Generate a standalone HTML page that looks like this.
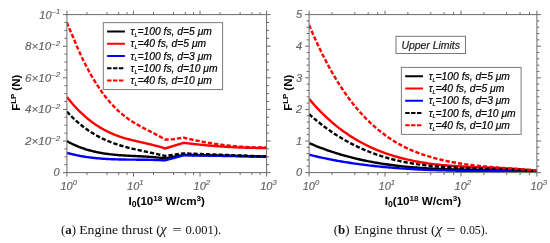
<!DOCTYPE html><html><head><meta charset="utf-8"><style>html,body{margin:0;padding:0;background:#fff;width:550px;height:243px;overflow:hidden}svg{display:block}</style></head><body>
<svg width="550" height="243" viewBox="0 0 550 243">
<rect width="550" height="243" fill="#fff"/>
<defs><clipPath id="cl"><rect x="66.9" y="14.6" width="199.70000000000002" height="158.0"/></clipPath><clipPath id="cr"><rect x="309.1" y="14.6" width="227.79999999999995" height="158.0"/></clipPath></defs>
<g clip-path="url(#cl)">
<path d="M66.90 141.13 L67.72 141.58 L68.55 142.02 L69.37 142.46 L70.20 142.88 L71.02 143.30 L71.85 143.71 L72.67 144.10 L73.49 144.49 L74.32 144.87 L75.14 145.24 L75.97 145.60 L76.79 145.95 L77.62 146.29 L78.44 146.63 L79.27 146.95 L80.09 147.27 L80.91 147.58 L81.74 147.88 L82.56 148.18 L83.39 148.46 L84.21 148.74 L85.04 149.01 L85.86 149.28 L86.68 149.53 L87.51 149.78 L88.33 150.02 L89.16 150.26 L89.98 150.49 L90.81 150.71 L91.63 150.92 L92.46 151.13 L93.28 151.33 L94.10 151.53 L94.93 151.72 L95.75 151.90 L96.58 152.08 L97.40 152.25 L98.23 152.42 L99.05 152.58 L99.87 152.74 L100.70 152.89 L101.52 153.03 L102.35 153.17 L103.17 153.31 L104.00 153.44 L104.82 153.57 L105.65 153.69 L106.47 153.80 L107.29 153.92 L108.12 154.03 L108.94 154.13 L109.77 154.23 L110.59 154.33 L111.42 154.42 L112.24 154.51 L113.06 154.60 L113.89 154.68 L114.71 154.76 L115.54 154.84 L116.36 154.91 L117.19 154.98 L118.01 155.05 L118.84 155.12 L119.66 155.18 L120.48 155.24 L121.31 155.30 L122.13 155.35 L122.96 155.41 L123.78 155.46 L124.61 155.51 L125.43 155.56 L126.25 155.61 L127.08 155.66 L127.90 155.70 L128.73 155.74 L129.55 155.79 L130.38 155.83 L131.20 155.87 L132.03 155.91 L132.85 155.95 L133.67 155.99 L134.50 156.03 L135.32 156.07 L136.15 156.11 L136.97 156.15 L137.80 156.19 L138.62 156.23 L139.44 156.27 L140.27 156.31 L141.09 156.35 L141.92 156.39 L142.74 156.43 L143.57 156.48 L144.39 156.52 L145.22 156.57 L146.04 156.62 L146.86 156.67 L147.69 156.72 L148.51 156.77 L149.34 156.83 L150.16 156.88 L150.99 156.94 L151.81 157.00 L152.63 157.07 L153.46 157.13 L154.28 157.20 L155.11 157.27 L155.93 157.35 L156.76 157.42 L157.58 157.50 L158.41 157.59 L159.23 157.67 L160.05 157.76 L160.88 157.86 L161.70 157.95 L162.53 158.06 L163.35 158.16 L164.18 158.27 L165.00 158.38 L183.60 154.90 L184.30 154.91 L184.99 154.92 L185.69 154.93 L186.39 154.94 L187.09 154.96 L187.78 154.97 L188.48 154.98 L189.18 154.99 L189.88 155.00 L190.57 155.02 L191.27 155.03 L191.97 155.04 L192.67 155.05 L193.36 155.07 L194.06 155.08 L194.76 155.09 L195.46 155.10 L196.15 155.11 L196.85 155.13 L197.55 155.14 L198.25 155.15 L198.94 155.16 L199.64 155.18 L200.34 155.19 L201.04 155.20 L201.73 155.21 L202.43 155.23 L203.13 155.24 L203.83 155.25 L204.52 155.26 L205.22 155.28 L205.92 155.29 L206.62 155.30 L207.31 155.32 L208.01 155.33 L208.71 155.34 L209.41 155.35 L210.10 155.37 L210.80 155.38 L211.50 155.39 L212.20 155.41 L212.89 155.42 L213.59 155.43 L214.29 155.44 L214.99 155.46 L215.68 155.47 L216.38 155.48 L217.08 155.50 L217.78 155.51 L218.47 155.52 L219.17 155.54 L219.87 155.55 L220.57 155.56 L221.26 155.58 L221.96 155.59 L222.66 155.60 L223.36 155.62 L224.05 155.63 L224.75 155.64 L225.45 155.66 L226.15 155.67 L226.84 155.68 L227.54 155.70 L228.24 155.71 L228.94 155.72 L229.63 155.74 L230.33 155.75 L231.03 155.77 L231.73 155.78 L232.42 155.79 L233.12 155.81 L233.82 155.82 L234.52 155.83 L235.21 155.85 L235.91 155.86 L236.61 155.88 L237.31 155.89 L238.00 155.90 L238.70 155.92 L239.40 155.93 L240.10 155.95 L240.79 155.96 L241.49 155.97 L242.19 155.99 L242.89 156.00 L243.58 156.02 L244.28 156.03 L244.98 156.04 L245.68 156.06 L246.37 156.07 L247.07 156.09 L247.77 156.10 L248.47 156.12 L249.16 156.13 L249.86 156.15 L250.56 156.16 L251.26 156.17 L251.95 156.19 L252.65 156.20 L253.35 156.22 L254.05 156.23 L254.74 156.25 L255.44 156.26 L256.14 156.28 L256.84 156.29 L257.53 156.31 L258.23 156.32 L258.93 156.33 L259.63 156.35 L260.32 156.36 L261.02 156.38 L261.72 156.39 L262.42 156.41 L263.11 156.42 L263.81 156.44 L264.51 156.45 L265.21 156.47 L265.90 156.48 L266.60 156.50" stroke="#000" stroke-width="2.4" fill="none" stroke-linejoin="round"/>
<path d="M66.90 97.02 L67.72 98.07 L68.55 99.10 L69.37 100.11 L70.20 101.11 L71.02 102.09 L71.85 103.06 L72.67 104.01 L73.49 104.94 L74.32 105.86 L75.14 106.76 L75.97 107.65 L76.79 108.52 L77.62 109.38 L78.44 110.22 L79.27 111.05 L80.09 111.86 L80.91 112.66 L81.74 113.44 L82.56 114.21 L83.39 114.97 L84.21 115.71 L85.04 116.43 L85.86 117.15 L86.68 117.85 L87.51 118.54 L88.33 119.21 L89.16 119.87 L89.98 120.52 L90.81 121.16 L91.63 121.78 L92.46 122.39 L93.28 122.99 L94.10 123.58 L94.93 124.15 L95.75 124.72 L96.58 125.27 L97.40 125.81 L98.23 126.33 L99.05 126.85 L99.87 127.36 L100.70 127.85 L101.52 128.34 L102.35 128.81 L103.17 129.27 L104.00 129.73 L104.82 130.17 L105.65 130.60 L106.47 131.02 L107.29 131.44 L108.12 131.84 L108.94 132.23 L109.77 132.62 L110.59 132.99 L111.42 133.36 L112.24 133.72 L113.06 134.07 L113.89 134.41 L114.71 134.74 L115.54 135.06 L116.36 135.38 L117.19 135.69 L118.01 135.99 L118.84 136.28 L119.66 136.56 L120.48 136.84 L121.31 137.11 L122.13 137.38 L122.96 137.63 L123.78 137.89 L124.61 138.13 L125.43 138.37 L126.25 138.61 L127.08 138.84 L127.90 139.06 L128.73 139.28 L129.55 139.50 L130.38 139.71 L131.20 139.92 L132.03 140.13 L132.85 140.33 L133.67 140.53 L134.50 140.72 L135.32 140.92 L136.15 141.11 L136.97 141.30 L137.80 141.49 L138.62 141.68 L139.44 141.86 L140.27 142.05 L141.09 142.23 L141.92 142.42 L142.74 142.60 L143.57 142.78 L144.39 142.97 L145.22 143.15 L146.04 143.34 L146.86 143.53 L147.69 143.72 L148.51 143.91 L149.34 144.10 L150.16 144.30 L150.99 144.50 L151.81 144.70 L152.63 144.90 L153.46 145.11 L154.28 145.32 L155.11 145.54 L155.93 145.76 L156.76 145.98 L157.58 146.21 L158.41 146.44 L159.23 146.68 L160.05 146.93 L160.88 147.17 L161.70 147.43 L162.53 147.69 L163.35 147.96 L164.18 148.24 L165.00 148.52 L183.60 142.80 L184.30 142.89 L184.99 142.98 L185.69 143.06 L186.39 143.15 L187.09 143.23 L187.78 143.32 L188.48 143.40 L189.18 143.49 L189.88 143.57 L190.57 143.65 L191.27 143.73 L191.97 143.81 L192.67 143.89 L193.36 143.97 L194.06 144.05 L194.76 144.12 L195.46 144.20 L196.15 144.27 L196.85 144.35 L197.55 144.42 L198.25 144.50 L198.94 144.57 L199.64 144.64 L200.34 144.71 L201.04 144.78 L201.73 144.85 L202.43 144.92 L203.13 144.99 L203.83 145.05 L204.52 145.12 L205.22 145.19 L205.92 145.25 L206.62 145.32 L207.31 145.38 L208.01 145.44 L208.71 145.50 L209.41 145.56 L210.10 145.62 L210.80 145.68 L211.50 145.74 L212.20 145.80 L212.89 145.86 L213.59 145.91 L214.29 145.97 L214.99 146.03 L215.68 146.08 L216.38 146.13 L217.08 146.19 L217.78 146.24 L218.47 146.29 L219.17 146.34 L219.87 146.39 L220.57 146.44 L221.26 146.49 L221.96 146.53 L222.66 146.58 L223.36 146.63 L224.05 146.67 L224.75 146.72 L225.45 146.76 L226.15 146.80 L226.84 146.85 L227.54 146.89 L228.24 146.93 L228.94 146.97 L229.63 147.01 L230.33 147.04 L231.03 147.08 L231.73 147.12 L232.42 147.16 L233.12 147.19 L233.82 147.23 L234.52 147.26 L235.21 147.29 L235.91 147.32 L236.61 147.36 L237.31 147.39 L238.00 147.42 L238.70 147.45 L239.40 147.47 L240.10 147.50 L240.79 147.53 L241.49 147.56 L242.19 147.58 L242.89 147.61 L243.58 147.63 L244.28 147.65 L244.98 147.68 L245.68 147.70 L246.37 147.72 L247.07 147.74 L247.77 147.76 L248.47 147.78 L249.16 147.80 L249.86 147.81 L250.56 147.83 L251.26 147.85 L251.95 147.86 L252.65 147.87 L253.35 147.89 L254.05 147.90 L254.74 147.91 L255.44 147.92 L256.14 147.93 L256.84 147.94 L257.53 147.95 L258.23 147.96 L258.93 147.97 L259.63 147.97 L260.32 147.98 L261.02 147.99 L261.72 147.99 L262.42 147.99 L263.11 148.00 L263.81 148.00 L264.51 148.00 L265.21 148.00 L265.90 148.00 L266.60 148.00" stroke="#f00" stroke-width="2.4" fill="none" stroke-linejoin="round"/>
<path d="M66.90 152.86 L67.72 153.09 L68.55 153.31 L69.37 153.53 L70.20 153.74 L71.02 153.95 L71.85 154.15 L72.67 154.35 L73.49 154.54 L74.32 154.73 L75.14 154.91 L75.97 155.09 L76.79 155.26 L77.62 155.43 L78.44 155.60 L79.27 155.76 L80.09 155.91 L80.91 156.06 L81.74 156.21 L82.56 156.35 L83.39 156.49 L84.21 156.63 L85.04 156.76 L85.86 156.88 L86.68 157.01 L87.51 157.12 L88.33 157.24 L89.16 157.35 L89.98 157.46 L90.81 157.56 L91.63 157.66 L92.46 157.76 L93.28 157.85 L94.10 157.94 L94.93 158.03 L95.75 158.12 L96.58 158.20 L97.40 158.27 L98.23 158.35 L99.05 158.42 L99.87 158.49 L100.70 158.56 L101.52 158.62 L102.35 158.68 L103.17 158.74 L104.00 158.80 L104.82 158.85 L105.65 158.90 L106.47 158.95 L107.29 158.99 L108.12 159.04 L108.94 159.08 L109.77 159.12 L110.59 159.16 L111.42 159.19 L112.24 159.23 L113.06 159.26 L113.89 159.29 L114.71 159.32 L115.54 159.35 L116.36 159.37 L117.19 159.40 L118.01 159.42 L118.84 159.44 L119.66 159.46 L120.48 159.48 L121.31 159.50 L122.13 159.51 L122.96 159.53 L123.78 159.54 L124.61 159.55 L125.43 159.57 L126.25 159.58 L127.08 159.59 L127.90 159.60 L128.73 159.61 L129.55 159.62 L130.38 159.63 L131.20 159.63 L132.03 159.64 L132.85 159.65 L133.67 159.66 L134.50 159.66 L135.32 159.67 L136.15 159.68 L136.97 159.68 L137.80 159.69 L138.62 159.70 L139.44 159.70 L140.27 159.71 L141.09 159.72 L141.92 159.73 L142.74 159.74 L143.57 159.75 L144.39 159.76 L145.22 159.77 L146.04 159.78 L146.86 159.79 L147.69 159.80 L148.51 159.82 L149.34 159.83 L150.16 159.85 L150.99 159.87 L151.81 159.88 L152.63 159.90 L153.46 159.92 L154.28 159.95 L155.11 159.97 L155.93 159.99 L156.76 160.02 L157.58 160.05 L158.41 160.08 L159.23 160.11 L160.05 160.14 L160.88 160.18 L161.70 160.22 L162.53 160.26 L163.35 160.30 L164.18 160.34 L165.00 160.39 L183.60 155.30 L184.30 155.31 L184.99 155.32 L185.69 155.33 L186.39 155.34 L187.09 155.35 L187.78 155.36 L188.48 155.37 L189.18 155.38 L189.88 155.39 L190.57 155.40 L191.27 155.41 L191.97 155.43 L192.67 155.44 L193.36 155.45 L194.06 155.46 L194.76 155.47 L195.46 155.48 L196.15 155.49 L196.85 155.50 L197.55 155.51 L198.25 155.52 L198.94 155.54 L199.64 155.55 L200.34 155.56 L201.04 155.57 L201.73 155.58 L202.43 155.59 L203.13 155.60 L203.83 155.61 L204.52 155.63 L205.22 155.64 L205.92 155.65 L206.62 155.66 L207.31 155.67 L208.01 155.68 L208.71 155.70 L209.41 155.71 L210.10 155.72 L210.80 155.73 L211.50 155.74 L212.20 155.76 L212.89 155.77 L213.59 155.78 L214.29 155.79 L214.99 155.80 L215.68 155.82 L216.38 155.83 L217.08 155.84 L217.78 155.85 L218.47 155.86 L219.17 155.88 L219.87 155.89 L220.57 155.90 L221.26 155.91 L221.96 155.93 L222.66 155.94 L223.36 155.95 L224.05 155.96 L224.75 155.98 L225.45 155.99 L226.15 156.00 L226.84 156.01 L227.54 156.03 L228.24 156.04 L228.94 156.05 L229.63 156.06 L230.33 156.08 L231.03 156.09 L231.73 156.10 L232.42 156.12 L233.12 156.13 L233.82 156.14 L234.52 156.16 L235.21 156.17 L235.91 156.18 L236.61 156.20 L237.31 156.21 L238.00 156.22 L238.70 156.23 L239.40 156.25 L240.10 156.26 L240.79 156.28 L241.49 156.29 L242.19 156.30 L242.89 156.32 L243.58 156.33 L244.28 156.34 L244.98 156.36 L245.68 156.37 L246.37 156.38 L247.07 156.40 L247.77 156.41 L248.47 156.43 L249.16 156.44 L249.86 156.45 L250.56 156.47 L251.26 156.48 L251.95 156.50 L252.65 156.51 L253.35 156.52 L254.05 156.54 L254.74 156.55 L255.44 156.57 L256.14 156.58 L256.84 156.59 L257.53 156.61 L258.23 156.62 L258.93 156.64 L259.63 156.65 L260.32 156.67 L261.02 156.68 L261.72 156.70 L262.42 156.71 L263.11 156.72 L263.81 156.74 L264.51 156.75 L265.21 156.77 L265.90 156.78 L266.60 156.80" stroke="#00f" stroke-width="2.4" fill="none" stroke-linejoin="round"/>
<path d="M66.90 111.63 L67.72 112.53 L68.55 113.40 L69.37 114.27 L70.20 115.11 L71.02 115.95 L71.85 116.77 L72.67 117.57 L73.49 118.36 L74.32 119.14 L75.14 119.90 L75.97 120.65 L76.79 121.39 L77.62 122.12 L78.44 122.83 L79.27 123.52 L80.09 124.21 L80.91 124.88 L81.74 125.54 L82.56 126.19 L83.39 126.83 L84.21 127.45 L85.04 128.07 L85.86 128.67 L86.68 129.26 L87.51 129.83 L88.33 130.40 L89.16 130.96 L89.98 131.50 L90.81 132.04 L91.63 132.56 L92.46 133.08 L93.28 133.58 L94.10 134.07 L94.93 134.56 L95.75 135.03 L96.58 135.49 L97.40 135.95 L98.23 136.40 L99.05 136.83 L99.87 137.26 L100.70 137.68 L101.52 138.09 L102.35 138.49 L103.17 138.88 L104.00 139.27 L104.82 139.65 L105.65 140.01 L106.47 140.38 L107.29 140.73 L108.12 141.08 L108.94 141.42 L109.77 141.75 L110.59 142.07 L111.42 142.39 L112.24 142.70 L113.06 143.01 L113.89 143.31 L114.71 143.60 L115.54 143.89 L116.36 144.17 L117.19 144.44 L118.01 144.71 L118.84 144.98 L119.66 145.24 L120.48 145.49 L121.31 145.74 L122.13 145.98 L122.96 146.22 L123.78 146.46 L124.61 146.69 L125.43 146.92 L126.25 147.14 L127.08 147.36 L127.90 147.57 L128.73 147.79 L129.55 147.99 L130.38 148.20 L131.20 148.40 L132.03 148.60 L132.85 148.80 L133.67 148.99 L134.50 149.18 L135.32 149.37 L136.15 149.56 L136.97 149.74 L137.80 149.93 L138.62 150.11 L139.44 150.29 L140.27 150.47 L141.09 150.64 L141.92 150.82 L142.74 150.99 L143.57 151.17 L144.39 151.34 L145.22 151.52 L146.04 151.69 L146.86 151.86 L147.69 152.04 L148.51 152.21 L149.34 152.38 L150.16 152.56 L150.99 152.73 L151.81 152.91 L152.63 153.09 L153.46 153.26 L154.28 153.44 L155.11 153.62 L155.93 153.81 L156.76 153.99 L157.58 154.18 L158.41 154.36 L159.23 154.55 L160.05 154.75 L160.88 154.94 L161.70 155.14 L162.53 155.34 L163.35 155.54 L164.18 155.75 L165.00 155.96 L183.60 153.39 L184.30 153.41 L184.99 153.44 L185.69 153.46 L186.39 153.49 L187.09 153.51 L187.78 153.54 L188.48 153.57 L189.18 153.59 L189.88 153.62 L190.57 153.64 L191.27 153.67 L191.97 153.69 L192.67 153.72 L193.36 153.75 L194.06 153.77 L194.76 153.80 L195.46 153.82 L196.15 153.85 L196.85 153.88 L197.55 153.90 L198.25 153.93 L198.94 153.95 L199.64 153.98 L200.34 154.01 L201.04 154.03 L201.73 154.06 L202.43 154.08 L203.13 154.11 L203.83 154.14 L204.52 154.16 L205.22 154.19 L205.92 154.22 L206.62 154.24 L207.31 154.27 L208.01 154.30 L208.71 154.32 L209.41 154.35 L210.10 154.37 L210.80 154.40 L211.50 154.43 L212.20 154.45 L212.89 154.48 L213.59 154.51 L214.29 154.53 L214.99 154.56 L215.68 154.59 L216.38 154.61 L217.08 154.64 L217.78 154.67 L218.47 154.69 L219.17 154.72 L219.87 154.75 L220.57 154.77 L221.26 154.80 L221.96 154.83 L222.66 154.86 L223.36 154.88 L224.05 154.91 L224.75 154.94 L225.45 154.96 L226.15 154.99 L226.84 155.02 L227.54 155.04 L228.24 155.07 L228.94 155.10 L229.63 155.13 L230.33 155.15 L231.03 155.18 L231.73 155.21 L232.42 155.23 L233.12 155.26 L233.82 155.29 L234.52 155.32 L235.21 155.34 L235.91 155.37 L236.61 155.40 L237.31 155.43 L238.00 155.45 L238.70 155.48 L239.40 155.51 L240.10 155.54 L240.79 155.56 L241.49 155.59 L242.19 155.62 L242.89 155.65 L243.58 155.67 L244.28 155.70 L244.98 155.73 L245.68 155.76 L246.37 155.79 L247.07 155.81 L247.77 155.84 L248.47 155.87 L249.16 155.90 L249.86 155.92 L250.56 155.95 L251.26 155.98 L251.95 156.01 L252.65 156.04 L253.35 156.06 L254.05 156.09 L254.74 156.12 L255.44 156.15 L256.14 156.18 L256.84 156.20 L257.53 156.23 L258.23 156.26 L258.93 156.29 L259.63 156.32 L260.32 156.35 L261.02 156.37 L261.72 156.40 L262.42 156.43 L263.11 156.46 L263.81 156.49 L264.51 156.52 L265.21 156.54 L265.90 156.57 L266.60 156.60" stroke="#000" stroke-width="2.4" fill="none" stroke-linejoin="round" stroke-dasharray="4.3 2.0"/>
<path d="M66.90 22.42 L67.72 24.64 L68.55 26.71 L69.37 28.66 L70.20 30.53 L71.02 32.36 L71.85 34.19 L72.67 36.05 L73.49 37.98 L74.32 39.99 L75.14 42.01 L75.97 44.01 L76.79 45.97 L77.62 47.89 L78.44 49.78 L79.27 51.63 L80.09 53.45 L80.91 55.24 L81.74 57.00 L82.56 58.73 L83.39 60.43 L84.21 62.10 L85.04 63.74 L85.86 65.36 L86.68 66.95 L87.51 68.52 L88.33 70.06 L89.16 71.58 L89.98 73.07 L90.81 74.54 L91.63 75.98 L92.46 77.40 L93.28 78.79 L94.10 80.16 L94.93 81.51 L95.75 82.83 L96.58 84.13 L97.40 85.41 L98.23 86.67 L99.05 87.90 L99.87 89.11 L100.70 90.30 L101.52 91.46 L102.35 92.61 L103.17 93.73 L104.00 94.83 L104.82 95.92 L105.65 96.98 L106.47 98.02 L107.29 99.04 L108.12 100.04 L108.94 101.02 L109.77 101.98 L110.59 102.92 L111.42 103.84 L112.24 104.74 L113.06 105.63 L113.89 106.49 L114.71 107.34 L115.54 108.17 L116.36 108.98 L117.19 109.77 L118.01 110.55 L118.84 111.31 L119.66 112.05 L120.48 112.77 L121.31 113.48 L122.13 114.17 L122.96 114.85 L123.78 115.51 L124.61 116.16 L125.43 116.79 L126.25 117.41 L127.08 118.01 L127.90 118.60 L128.73 119.18 L129.55 119.75 L130.38 120.30 L131.20 120.85 L132.03 121.38 L132.85 121.91 L133.67 122.42 L134.50 122.93 L135.32 123.42 L136.15 123.91 L136.97 124.39 L137.80 124.86 L138.62 125.33 L139.44 125.79 L140.27 126.24 L141.09 126.69 L141.92 127.14 L142.74 127.58 L143.57 128.01 L144.39 128.44 L145.22 128.87 L146.04 129.30 L146.86 129.72 L147.69 130.15 L148.51 130.57 L149.34 130.99 L150.16 131.41 L150.99 131.83 L151.81 132.25 L152.63 132.68 L153.46 133.10 L154.28 133.53 L155.11 133.96 L155.93 134.39 L156.76 134.83 L157.58 135.27 L158.41 135.71 L159.23 136.16 L160.05 136.62 L160.88 137.08 L161.70 137.55 L162.53 138.02 L163.35 138.50 L164.18 138.99 L165.00 139.49 L172.70 139.40 L176.90 138.60 L183.60 137.62 L184.30 137.80 L184.99 137.96 L185.69 138.13 L186.39 138.30 L187.09 138.46 L187.78 138.63 L188.48 138.79 L189.18 138.95 L189.88 139.11 L190.57 139.26 L191.27 139.42 L191.97 139.57 L192.67 139.73 L193.36 139.88 L194.06 140.03 L194.76 140.18 L195.46 140.32 L196.15 140.47 L196.85 140.61 L197.55 140.75 L198.25 140.89 L198.94 141.03 L199.64 141.17 L200.34 141.31 L201.04 141.44 L201.73 141.58 L202.43 141.71 L203.13 141.84 L203.83 141.97 L204.52 142.10 L205.22 142.22 L205.92 142.35 L206.62 142.47 L207.31 142.59 L208.01 142.71 L208.71 142.83 L209.41 142.95 L210.10 143.06 L210.80 143.18 L211.50 143.29 L212.20 143.40 L212.89 143.51 L213.59 143.62 L214.29 143.72 L214.99 143.83 L215.68 143.93 L216.38 144.04 L217.08 144.14 L217.78 144.24 L218.47 144.33 L219.17 144.43 L219.87 144.52 L220.57 144.62 L221.26 144.71 L221.96 144.80 L222.66 144.89 L223.36 144.98 L224.05 145.06 L224.75 145.15 L225.45 145.23 L226.15 145.31 L226.84 145.39 L227.54 145.47 L228.24 145.55 L228.94 145.62 L229.63 145.70 L230.33 145.77 L231.03 145.84 L231.73 145.91 L232.42 145.98 L233.12 146.04 L233.82 146.11 L234.52 146.17 L235.21 146.24 L235.91 146.30 L236.61 146.36 L237.31 146.41 L238.00 146.47 L238.70 146.52 L239.40 146.58 L240.10 146.63 L240.79 146.68 L241.49 146.73 L242.19 146.78 L242.89 146.82 L243.58 146.87 L244.28 146.91 L244.98 146.95 L245.68 146.99 L246.37 147.03 L247.07 147.06 L247.77 147.10 L248.47 147.13 L249.16 147.17 L249.86 147.20 L250.56 147.23 L251.26 147.25 L251.95 147.28 L252.65 147.31 L253.35 147.33 L254.05 147.35 L254.74 147.37 L255.44 147.39 L256.14 147.41 L256.84 147.43 L257.53 147.44 L258.23 147.45 L258.93 147.46 L259.63 147.48 L260.32 147.48 L261.02 147.49 L261.72 147.50 L262.42 147.50 L263.11 147.50 L263.81 147.50 L264.51 147.50 L265.21 147.50 L265.90 147.50 L266.60 147.50" stroke="#f00" stroke-width="2.4" fill="none" stroke-linejoin="round" stroke-dasharray="4.3 2.0"/>
</g>
<g clip-path="url(#cr)">
<path d="M309.10 143.10 L311.01 143.92 L312.93 144.72 L314.84 145.51 L316.76 146.28 L318.67 147.03 L320.59 147.77 L322.50 148.49 L324.41 149.19 L326.33 149.88 L328.24 150.55 L330.16 151.20 L332.07 151.84 L333.99 152.47 L335.90 153.08 L337.81 153.67 L339.73 154.25 L341.64 154.82 L343.56 155.37 L345.47 155.90 L347.39 156.43 L349.30 156.94 L351.21 157.43 L353.13 157.91 L355.04 158.38 L356.96 158.84 L358.87 159.28 L360.79 159.71 L362.70 160.13 L364.61 160.53 L366.53 160.93 L368.44 161.31 L370.36 161.68 L372.27 162.04 L374.19 162.38 L376.10 162.72 L378.01 163.04 L379.93 163.36 L381.84 163.66 L383.76 163.96 L385.67 164.24 L387.59 164.52 L389.50 164.78 L391.41 165.03 L393.33 165.28 L395.24 165.52 L397.16 165.74 L399.07 165.96 L400.99 166.17 L402.90 166.37 L404.81 166.57 L406.73 166.75 L408.64 166.93 L410.56 167.10 L412.47 167.27 L414.39 167.42 L416.30 167.57 L418.21 167.72 L420.13 167.85 L422.04 167.98 L423.96 168.10 L425.87 168.22 L427.79 168.33 L429.70 168.44 L431.61 168.54 L433.53 168.64 L435.44 168.73 L437.36 168.81 L439.27 168.89 L441.19 168.97 L443.10 169.04 L445.01 169.11 L446.93 169.18 L448.84 169.24 L450.76 169.29 L452.67 169.35 L454.59 169.40 L456.50 169.45 L458.41 169.49 L460.33 169.54 L462.24 169.58 L464.16 169.62 L466.07 169.66 L467.99 169.69 L469.90 169.73 L471.81 169.76 L473.73 169.79 L475.64 169.82 L477.56 169.85 L479.47 169.88 L481.39 169.91 L483.30 169.94 L485.21 169.97 L487.13 170.00 L489.04 170.03 L490.96 170.06 L492.87 170.09 L494.79 170.12 L496.70 170.16 L498.61 170.19 L500.53 170.23 L502.44 170.27 L504.36 170.31 L506.27 170.35 L508.19 170.40 L510.10 170.45 L512.01 170.50 L513.93 170.55 L515.84 170.61 L517.76 170.67 L519.67 170.73 L521.59 170.80 L523.50 170.87 L525.41 170.95 L527.33 171.03 L529.24 171.12 L531.16 171.21 L533.07 171.30 L534.99 171.40 L536.90 171.51" stroke="#000" stroke-width="2.4" fill="none" stroke-linejoin="round"/>
<path d="M309.10 98.87 L311.01 101.13 L312.93 103.34 L314.84 105.48 L316.76 107.57 L318.67 109.60 L320.59 111.58 L322.50 113.50 L324.41 115.38 L326.33 117.20 L328.24 118.97 L330.16 120.69 L332.07 122.36 L333.99 123.99 L335.90 125.57 L337.81 127.10 L339.73 128.59 L341.64 130.03 L343.56 131.43 L345.47 132.79 L347.39 134.11 L349.30 135.39 L351.21 136.63 L353.13 137.83 L355.04 138.99 L356.96 140.12 L358.87 141.21 L360.79 142.27 L362.70 143.29 L364.61 144.28 L366.53 145.24 L368.44 146.17 L370.36 147.07 L372.27 147.94 L374.19 148.78 L376.10 149.59 L378.01 150.38 L379.93 151.15 L381.84 151.89 L383.76 152.60 L385.67 153.29 L387.59 153.96 L389.50 154.60 L391.41 155.22 L393.33 155.82 L395.24 156.40 L397.16 156.96 L399.07 157.49 L400.99 158.01 L402.90 158.50 L404.81 158.98 L406.73 159.43 L408.64 159.87 L410.56 160.29 L412.47 160.70 L414.39 161.08 L416.30 161.45 L418.21 161.80 L420.13 162.14 L422.04 162.46 L423.96 162.77 L425.87 163.06 L427.79 163.34 L429.70 163.60 L431.61 163.86 L433.53 164.10 L435.44 164.32 L437.36 164.54 L439.27 164.74 L441.19 164.94 L443.10 165.12 L445.01 165.29 L446.93 165.46 L448.84 165.61 L450.76 165.76 L452.67 165.90 L454.59 166.03 L456.50 166.15 L458.41 166.27 L460.33 166.38 L462.24 166.49 L464.16 166.59 L466.07 166.69 L467.99 166.78 L469.90 166.86 L471.81 166.95 L473.73 167.03 L475.64 167.11 L477.56 167.18 L479.47 167.26 L481.39 167.33 L483.30 167.41 L485.21 167.48 L487.13 167.55 L489.04 167.62 L490.96 167.70 L492.87 167.78 L494.79 167.85 L496.70 167.93 L498.61 168.02 L500.53 168.11 L502.44 168.20 L504.36 168.29 L506.27 168.39 L508.19 168.50 L510.10 168.61 L512.01 168.73 L513.93 168.85 L515.84 168.98 L517.76 169.12 L519.67 169.27 L521.59 169.42 L523.50 169.58 L525.41 169.76 L527.33 169.94 L529.24 170.13 L531.16 170.34 L533.07 170.55 L534.99 170.78 L536.90 171.02" stroke="#f00" stroke-width="2.4" fill="none" stroke-linejoin="round"/>
<path d="M309.10 154.70 L311.01 155.17 L312.93 155.63 L314.84 156.08 L316.76 156.53 L318.67 156.96 L320.59 157.38 L322.50 157.80 L324.41 158.20 L326.33 158.60 L328.24 158.99 L330.16 159.37 L332.07 159.74 L333.99 160.11 L335.90 160.46 L337.81 160.81 L339.73 161.15 L341.64 161.48 L343.56 161.81 L345.47 162.13 L347.39 162.43 L349.30 162.74 L351.21 163.03 L353.13 163.32 L355.04 163.60 L356.96 163.87 L358.87 164.13 L360.79 164.39 L362.70 164.65 L364.61 164.89 L366.53 165.13 L368.44 165.36 L370.36 165.59 L372.27 165.81 L374.19 166.02 L376.10 166.23 L378.01 166.43 L379.93 166.62 L381.84 166.81 L383.76 166.99 L385.67 167.17 L387.59 167.34 L389.50 167.51 L391.41 167.67 L393.33 167.83 L395.24 167.98 L397.16 168.13 L399.07 168.27 L400.99 168.40 L402.90 168.54 L404.81 168.66 L406.73 168.78 L408.64 168.90 L410.56 169.02 L412.47 169.12 L414.39 169.23 L416.30 169.33 L418.21 169.43 L420.13 169.52 L422.04 169.61 L423.96 169.69 L425.87 169.78 L427.79 169.86 L429.70 169.93 L431.61 170.00 L433.53 170.07 L435.44 170.14 L437.36 170.20 L439.27 170.26 L441.19 170.31 L443.10 170.37 L445.01 170.42 L446.93 170.47 L448.84 170.51 L450.76 170.56 L452.67 170.60 L454.59 170.64 L456.50 170.68 L458.41 170.71 L460.33 170.75 L462.24 170.78 L464.16 170.81 L466.07 170.84 L467.99 170.87 L469.90 170.89 L471.81 170.92 L473.73 170.94 L475.64 170.96 L477.56 170.98 L479.47 171.00 L481.39 171.02 L483.30 171.04 L485.21 171.06 L487.13 171.08 L489.04 171.10 L490.96 171.12 L492.87 171.13 L494.79 171.15 L496.70 171.17 L498.61 171.18 L500.53 171.20 L502.44 171.22 L504.36 171.24 L506.27 171.26 L508.19 171.28 L510.10 171.30 L512.01 171.32 L513.93 171.34 L515.84 171.36 L517.76 171.38 L519.67 171.41 L521.59 171.44 L523.50 171.46 L525.41 171.49 L527.33 171.52 L529.24 171.55 L531.16 171.59 L533.07 171.62 L534.99 171.66 L536.90 171.70" stroke="#00f" stroke-width="2.4" fill="none" stroke-linejoin="round"/>
<path d="M309.10 114.17 L311.01 115.86 L312.93 117.52 L314.84 119.14 L316.76 120.72 L318.67 122.27 L320.59 123.78 L322.50 125.26 L324.41 126.71 L326.33 128.12 L328.24 129.50 L330.16 130.84 L332.07 132.15 L333.99 133.44 L335.90 134.68 L337.81 135.90 L339.73 137.09 L341.64 138.25 L343.56 139.38 L345.47 140.47 L347.39 141.54 L349.30 142.58 L351.21 143.60 L353.13 144.58 L355.04 145.54 L356.96 146.47 L358.87 147.37 L360.79 148.24 L362.70 149.10 L364.61 149.92 L366.53 150.72 L368.44 151.50 L370.36 152.25 L372.27 152.98 L374.19 153.68 L376.10 154.36 L378.01 155.02 L379.93 155.66 L381.84 156.27 L383.76 156.87 L385.67 157.44 L387.59 157.99 L389.50 158.52 L391.41 159.03 L393.33 159.53 L395.24 160.00 L397.16 160.46 L399.07 160.89 L400.99 161.31 L402.90 161.72 L404.81 162.10 L406.73 162.47 L408.64 162.82 L410.56 163.16 L412.47 163.48 L414.39 163.79 L416.30 164.08 L418.21 164.36 L420.13 164.63 L422.04 164.88 L423.96 165.12 L425.87 165.35 L427.79 165.56 L429.70 165.77 L431.61 165.96 L433.53 166.14 L435.44 166.31 L437.36 166.47 L439.27 166.63 L441.19 166.77 L443.10 166.90 L445.01 167.03 L446.93 167.15 L448.84 167.26 L450.76 167.36 L452.67 167.46 L454.59 167.55 L456.50 167.63 L458.41 167.71 L460.33 167.79 L462.24 167.85 L464.16 167.92 L466.07 167.98 L467.99 168.04 L469.90 168.10 L471.81 168.15 L473.73 168.20 L475.64 168.25 L477.56 168.29 L479.47 168.34 L481.39 168.39 L483.30 168.43 L485.21 168.48 L487.13 168.52 L489.04 168.57 L490.96 168.62 L492.87 168.67 L494.79 168.73 L496.70 168.78 L498.61 168.84 L500.53 168.91 L502.44 168.97 L504.36 169.04 L506.27 169.12 L508.19 169.20 L510.10 169.29 L512.01 169.38 L513.93 169.48 L515.84 169.58 L517.76 169.70 L519.67 169.82 L521.59 169.95 L523.50 170.09 L525.41 170.23 L527.33 170.39 L529.24 170.55 L531.16 170.73 L533.07 170.91 L534.99 171.11 L536.90 171.32" stroke="#000" stroke-width="2.4" fill="none" stroke-linejoin="round" stroke-dasharray="4.3 2.0"/>
<path d="M309.10 25.03 L311.01 29.53 L312.93 33.93 L314.84 38.23 L316.76 42.43 L318.67 46.52 L320.59 50.52 L322.50 54.41 L324.41 58.21 L326.33 61.90 L328.24 65.50 L330.16 69.00 L332.07 72.40 L333.99 75.70 L335.90 78.92 L337.81 82.04 L339.73 85.07 L341.64 88.02 L343.56 90.87 L345.47 93.65 L347.39 96.34 L349.30 98.94 L351.21 101.47 L353.13 103.92 L355.04 106.30 L356.96 108.60 L358.87 110.83 L360.79 112.99 L362.70 115.08 L364.61 117.10 L366.53 119.06 L368.44 120.96 L370.36 122.79 L372.27 124.57 L374.19 126.28 L376.10 127.95 L378.01 129.56 L379.93 131.11 L381.84 132.62 L383.76 134.08 L385.67 135.49 L387.59 136.86 L389.50 138.18 L391.41 139.45 L393.33 140.68 L395.24 141.87 L397.16 143.01 L399.07 144.11 L400.99 145.17 L402.90 146.19 L404.81 147.16 L406.73 148.10 L408.64 149.00 L410.56 149.85 L412.47 150.67 L414.39 151.45 L416.30 152.20 L418.21 152.91 L420.13 153.60 L422.04 154.27 L423.96 154.92 L425.87 155.54 L427.79 156.14 L429.70 156.72 L431.61 157.28 L433.53 157.82 L435.44 158.33 L437.36 158.83 L439.27 159.32 L441.19 159.78 L443.10 160.22 L445.01 160.65 L446.93 161.06 L448.84 161.46 L450.76 161.84 L452.67 162.20 L454.59 162.55 L456.50 162.88 L458.41 163.21 L460.33 163.51 L462.24 163.81 L464.16 164.09 L466.07 164.36 L467.99 164.62 L469.90 164.87 L471.81 165.10 L473.73 165.33 L475.64 165.55 L477.56 165.76 L479.47 165.96 L481.39 166.15 L483.30 166.34 L485.21 166.51 L487.13 166.69 L489.04 166.85 L490.96 167.01 L492.87 167.16 L494.79 167.31 L496.70 167.46 L498.61 167.60 L500.53 167.74 L502.44 167.88 L504.36 168.01 L506.27 168.14 L508.19 168.27 L510.10 168.40 L512.01 168.53 L513.93 168.66 L515.84 168.79 L517.76 168.92 L519.67 169.06 L521.59 169.19 L523.50 169.33 L525.41 169.47 L527.33 169.61 L529.24 169.76 L531.16 169.92 L533.07 170.07 L534.99 170.24 L536.90 170.41" stroke="#f00" stroke-width="2.4" fill="none" stroke-linejoin="round" stroke-dasharray="4.3 2.0"/>
</g>
<rect x="66.9" y="14.6" width="199.70" height="158.00" fill="none" stroke="#6b6b6b" stroke-width="1"/>
<path d="M66.90 172.6v4.0M66.90 14.6v-4.0M86.94 172.6v2.5M86.94 14.6v-2.5M106.98 172.6v2.5M106.98 14.6v-2.5M118.70 172.6v2.5M118.70 14.6v-2.5M127.02 172.6v2.5M127.02 14.6v-2.5M133.47 172.6v4.0M133.47 14.6v-4.0M153.51 172.6v2.5M153.51 14.6v-2.5M173.54 172.6v2.5M173.54 14.6v-2.5M185.27 172.6v2.5M185.27 14.6v-2.5M193.58 172.6v2.5M193.58 14.6v-2.5M200.03 172.6v4.0M200.03 14.6v-4.0M220.07 172.6v2.5M220.07 14.6v-2.5M240.11 172.6v2.5M240.11 14.6v-2.5M251.83 172.6v2.5M251.83 14.6v-2.5M260.15 172.6v2.5M260.15 14.6v-2.5M266.60 172.6v4.0M266.60 14.6v-4.0M66.9 172.60h-4.0M266.6 172.60h4.0M66.9 164.70h-2.5M266.6 164.70h2.5M66.9 156.80h-2.5M266.6 156.80h2.5M66.9 148.90h-2.5M266.6 148.90h2.5M66.9 141.00h-4.0M266.6 141.00h4.0M66.9 133.10h-2.5M266.6 133.10h2.5M66.9 125.20h-2.5M266.6 125.20h2.5M66.9 117.30h-2.5M266.6 117.30h2.5M66.9 109.40h-4.0M266.6 109.40h4.0M66.9 101.50h-2.5M266.6 101.50h2.5M66.9 93.60h-2.5M266.6 93.60h2.5M66.9 85.70h-2.5M266.6 85.70h2.5M66.9 77.80h-4.0M266.6 77.80h4.0M66.9 69.90h-2.5M266.6 69.90h2.5M66.9 62.00h-2.5M266.6 62.00h2.5M66.9 54.10h-2.5M266.6 54.10h2.5M66.9 46.20h-4.0M266.6 46.20h4.0M66.9 38.30h-2.5M266.6 38.30h2.5M66.9 30.40h-2.5M266.6 30.40h2.5M66.9 22.50h-2.5M266.6 22.50h2.5M66.9 14.60h-4.0M266.6 14.60h4.0" stroke="#6b6b6b" stroke-width="1" fill="none"/>
<rect x="309.1" y="14.6" width="227.80" height="158.00" fill="none" stroke="#6b6b6b" stroke-width="1"/>
<path d="M309.10 172.6v4.0M309.10 14.6v-4.0M331.96 172.6v2.5M331.96 14.6v-2.5M354.82 172.6v2.5M354.82 14.6v-2.5M368.19 172.6v2.5M368.19 14.6v-2.5M377.67 172.6v2.5M377.67 14.6v-2.5M385.03 172.6v4.0M385.03 14.6v-4.0M407.89 172.6v2.5M407.89 14.6v-2.5M430.75 172.6v2.5M430.75 14.6v-2.5M444.12 172.6v2.5M444.12 14.6v-2.5M453.61 172.6v2.5M453.61 14.6v-2.5M460.97 172.6v4.0M460.97 14.6v-4.0M483.82 172.6v2.5M483.82 14.6v-2.5M506.68 172.6v2.5M506.68 14.6v-2.5M520.05 172.6v2.5M520.05 14.6v-2.5M529.54 172.6v2.5M529.54 14.6v-2.5M536.90 172.6v4.0M536.90 14.6v-4.0M309.1 172.60h-4.0M536.9 172.60h4.0M309.1 166.28h-2.5M536.9 166.28h2.5M309.1 159.96h-2.5M536.9 159.96h2.5M309.1 153.64h-2.5M536.9 153.64h2.5M309.1 147.32h-2.5M536.9 147.32h2.5M309.1 141.00h-4.0M536.9 141.00h4.0M309.1 134.68h-2.5M536.9 134.68h2.5M309.1 128.36h-2.5M536.9 128.36h2.5M309.1 122.04h-2.5M536.9 122.04h2.5M309.1 115.72h-2.5M536.9 115.72h2.5M309.1 109.40h-4.0M536.9 109.40h4.0M309.1 103.08h-2.5M536.9 103.08h2.5M309.1 96.76h-2.5M536.9 96.76h2.5M309.1 90.44h-2.5M536.9 90.44h2.5M309.1 84.12h-2.5M536.9 84.12h2.5M309.1 77.80h-4.0M536.9 77.80h4.0M309.1 71.48h-2.5M536.9 71.48h2.5M309.1 65.16h-2.5M536.9 65.16h2.5M309.1 58.84h-2.5M536.9 58.84h2.5M309.1 52.52h-2.5M536.9 52.52h2.5M309.1 46.20h-4.0M536.9 46.20h4.0M309.1 39.88h-2.5M536.9 39.88h2.5M309.1 33.56h-2.5M536.9 33.56h2.5M309.1 27.24h-2.5M536.9 27.24h2.5M309.1 20.92h-2.5M536.9 20.92h2.5M309.1 14.60h-4.0M536.9 14.60h4.0" stroke="#6b6b6b" stroke-width="1" fill="none"/>
<text x="60.2" y="18.50" font-family="'Liberation Sans', Arial, sans-serif" font-size="11" fill="#626262" stroke="#626262" stroke-width="0.15" text-anchor="end" font-style="italic">10<tspan dy="-3.6" font-size="7.6">−</tspan><tspan dy="-0.8" font-size="7.6">1</tspan></text>
<text x="60.2" y="50.10" font-family="'Liberation Sans', Arial, sans-serif" font-size="11" fill="#626262" stroke="#626262" stroke-width="0.15" text-anchor="end" font-style="italic" textLength="35.2" lengthAdjust="spacingAndGlyphs">8×10<tspan dy="-3.6" font-size="7.6">−</tspan><tspan dy="-0.8" font-size="7.6">2</tspan></text>
<text x="60.2" y="81.70" font-family="'Liberation Sans', Arial, sans-serif" font-size="11" fill="#626262" stroke="#626262" stroke-width="0.15" text-anchor="end" font-style="italic" textLength="35.2" lengthAdjust="spacingAndGlyphs">6×10<tspan dy="-3.6" font-size="7.6">−</tspan><tspan dy="-0.8" font-size="7.6">2</tspan></text>
<text x="60.2" y="113.30" font-family="'Liberation Sans', Arial, sans-serif" font-size="11" fill="#626262" stroke="#626262" stroke-width="0.15" text-anchor="end" font-style="italic" textLength="35.2" lengthAdjust="spacingAndGlyphs">4×10<tspan dy="-3.6" font-size="7.6">−</tspan><tspan dy="-0.8" font-size="7.6">2</tspan></text>
<text x="60.2" y="144.90" font-family="'Liberation Sans', Arial, sans-serif" font-size="11" fill="#626262" stroke="#626262" stroke-width="0.15" text-anchor="end" font-style="italic" textLength="35.2" lengthAdjust="spacingAndGlyphs">2×10<tspan dy="-3.6" font-size="7.6">−</tspan><tspan dy="-0.8" font-size="7.6">2</tspan></text>
<text x="59.5" y="176.4" font-family="'Liberation Sans', Arial, sans-serif" font-size="11" fill="#626262" stroke="#626262" stroke-width="0.15" text-anchor="end" font-weight="normal" font-style="italic">0</text>
<text x="302" y="176.40" font-family="'Liberation Sans', Arial, sans-serif" font-size="11" fill="#626262" stroke="#626262" stroke-width="0.15" text-anchor="end" font-weight="normal" font-style="italic">0</text>
<text x="302" y="144.80" font-family="'Liberation Sans', Arial, sans-serif" font-size="11" fill="#626262" stroke="#626262" stroke-width="0.15" text-anchor="end" font-weight="normal" font-style="italic">1</text>
<text x="302" y="113.20" font-family="'Liberation Sans', Arial, sans-serif" font-size="11" fill="#626262" stroke="#626262" stroke-width="0.15" text-anchor="end" font-weight="normal" font-style="italic">2</text>
<text x="302" y="81.60" font-family="'Liberation Sans', Arial, sans-serif" font-size="11" fill="#626262" stroke="#626262" stroke-width="0.15" text-anchor="end" font-weight="normal" font-style="italic">3</text>
<text x="302" y="50.00" font-family="'Liberation Sans', Arial, sans-serif" font-size="11" fill="#626262" stroke="#626262" stroke-width="0.15" text-anchor="end" font-weight="normal" font-style="italic">4</text>
<text x="302" y="18.40" font-family="'Liberation Sans', Arial, sans-serif" font-size="11" fill="#626262" stroke="#626262" stroke-width="0.15" text-anchor="end" font-weight="normal" font-style="italic">5</text>
<text x="68.70" y="189.8" font-family="'Liberation Sans', Arial, sans-serif" font-size="11" fill="#626262" stroke="#626262" stroke-width="0.15" text-anchor="middle" font-style="italic">10<tspan dy="-4.4" font-size="7.6">0</tspan></text>
<text x="135.27" y="189.8" font-family="'Liberation Sans', Arial, sans-serif" font-size="11" fill="#626262" stroke="#626262" stroke-width="0.15" text-anchor="middle" font-style="italic">10<tspan dy="-4.4" font-size="7.6">1</tspan></text>
<text x="201.83" y="189.8" font-family="'Liberation Sans', Arial, sans-serif" font-size="11" fill="#626262" stroke="#626262" stroke-width="0.15" text-anchor="middle" font-style="italic">10<tspan dy="-4.4" font-size="7.6">2</tspan></text>
<text x="268.40" y="189.8" font-family="'Liberation Sans', Arial, sans-serif" font-size="11" fill="#626262" stroke="#626262" stroke-width="0.15" text-anchor="middle" font-style="italic">10<tspan dy="-4.4" font-size="7.6">3</tspan></text>
<text x="310.90" y="189.8" font-family="'Liberation Sans', Arial, sans-serif" font-size="11" fill="#626262" stroke="#626262" stroke-width="0.15" text-anchor="middle" font-style="italic">10<tspan dy="-4.4" font-size="7.6">0</tspan></text>
<text x="386.83" y="189.8" font-family="'Liberation Sans', Arial, sans-serif" font-size="11" fill="#626262" stroke="#626262" stroke-width="0.15" text-anchor="middle" font-style="italic">10<tspan dy="-4.4" font-size="7.6">1</tspan></text>
<text x="462.77" y="189.8" font-family="'Liberation Sans', Arial, sans-serif" font-size="11" fill="#626262" stroke="#626262" stroke-width="0.15" text-anchor="middle" font-style="italic">10<tspan dy="-4.4" font-size="7.6">2</tspan></text>
<text x="538.70" y="189.8" font-family="'Liberation Sans', Arial, sans-serif" font-size="11" fill="#626262" stroke="#626262" stroke-width="0.15" text-anchor="middle" font-style="italic">10<tspan dy="-4.4" font-size="7.6">3</tspan></text>
<text x="166.75" y="205.3" font-family="'Liberation Sans', Arial, sans-serif" font-size="11" font-weight="bold" fill="#000" text-anchor="middle" textLength="76.5" lengthAdjust="spacingAndGlyphs">I<tspan dy="1.3" font-size="8.2">0</tspan><tspan dy="-1.3">(10</tspan><tspan dy="-4" font-size="7.7">18</tspan><tspan dy="4"> W/cm</tspan><tspan dy="-4" font-size="7.7">3</tspan><tspan dy="4">)</tspan></text>
<text transform="translate(20.0 92.80) rotate(-90)" x="0" y="0" font-family="'Liberation Sans', Arial, sans-serif" font-size="11" font-weight="bold" fill="#000" text-anchor="middle" textLength="36.0" lengthAdjust="spacingAndGlyphs">F<tspan dy="-4" font-size="7.5">LP</tspan><tspan dy="4"> (N)</tspan></text>
<text x="423.00" y="205.3" font-family="'Liberation Sans', Arial, sans-serif" font-size="11" font-weight="bold" fill="#000" text-anchor="middle" textLength="76.5" lengthAdjust="spacingAndGlyphs">I<tspan dy="1.3" font-size="8.2">0</tspan><tspan dy="-1.3">(10</tspan><tspan dy="-4" font-size="7.7">18</tspan><tspan dy="4"> W/cm</tspan><tspan dy="-4" font-size="7.7">3</tspan><tspan dy="4">)</tspan></text>
<text transform="translate(291.8 92.80) rotate(-90)" x="0" y="0" font-family="'Liberation Sans', Arial, sans-serif" font-size="11" font-weight="bold" fill="#000" text-anchor="middle" textLength="36.0" lengthAdjust="spacingAndGlyphs">F<tspan dy="-4" font-size="7.5">LP</tspan><tspan dy="4"> (N)</tspan></text>
<rect x="103.3" y="22.65" width="119.3" height="66.9" fill="#fff" stroke="#7a7a7a" stroke-width="1"/>
<path d="M107.1 31.50h17.8" stroke="#000" stroke-width="2" fill="none"/>
<text x="130.6" y="35.10" font-family="'Liberation Sans', Arial, sans-serif" font-size="10.3" fill="#000" stroke="#000" stroke-width="0.2" font-style="italic">τ<tspan dy="1.8" font-size="5.5">L</tspan><tspan dy="-1.8">=100 fs, d=5 μm</tspan></text>
<path d="M107.1 43.75h17.8" stroke="#f00" stroke-width="2" fill="none"/>
<text x="130.6" y="47.35" font-family="'Liberation Sans', Arial, sans-serif" font-size="10.3" fill="#000" stroke="#000" stroke-width="0.2" font-style="italic">τ<tspan dy="1.8" font-size="5.5">L</tspan><tspan dy="-1.8">=40 fs, d=5 μm</tspan></text>
<path d="M107.1 56.00h17.8" stroke="#00f" stroke-width="2" fill="none"/>
<text x="130.6" y="59.60" font-family="'Liberation Sans', Arial, sans-serif" font-size="10.3" fill="#000" stroke="#000" stroke-width="0.2" font-style="italic">τ<tspan dy="1.8" font-size="5.5">L</tspan><tspan dy="-1.8">=100 fs, d=3 μm</tspan></text>
<path d="M107.1 68.25h17.8" stroke="#000" stroke-width="2" fill="none" stroke-dasharray="4.4 1.5"/>
<text x="130.6" y="71.85" font-family="'Liberation Sans', Arial, sans-serif" font-size="10.3" fill="#000" stroke="#000" stroke-width="0.2" font-style="italic">τ<tspan dy="1.8" font-size="5.5">L</tspan><tspan dy="-1.8">=100 fs, d=10 μm</tspan></text>
<path d="M107.1 80.50h17.8" stroke="#f00" stroke-width="2" fill="none" stroke-dasharray="4.4 1.5"/>
<text x="130.6" y="84.10" font-family="'Liberation Sans', Arial, sans-serif" font-size="10.3" fill="#000" stroke="#000" stroke-width="0.2" font-style="italic">τ<tspan dy="1.8" font-size="5.5">L</tspan><tspan dy="-1.8">=40 fs, d=10 μm</tspan></text>
<rect x="401.4" y="67.4" width="119.7" height="67.0" fill="#fff" stroke="#7a7a7a" stroke-width="1"/>
<path d="M405.2 76.25h17.8" stroke="#000" stroke-width="2" fill="none"/>
<text x="428.7" y="79.85" font-family="'Liberation Sans', Arial, sans-serif" font-size="10.3" fill="#000" stroke="#000" stroke-width="0.2" font-style="italic">τ<tspan dy="1.8" font-size="5.5">L</tspan><tspan dy="-1.8">=100 fs, d=5 μm</tspan></text>
<path d="M405.2 88.50h17.8" stroke="#f00" stroke-width="2" fill="none"/>
<text x="428.7" y="92.10" font-family="'Liberation Sans', Arial, sans-serif" font-size="10.3" fill="#000" stroke="#000" stroke-width="0.2" font-style="italic">τ<tspan dy="1.8" font-size="5.5">L</tspan><tspan dy="-1.8">=40 fs, d=5 μm</tspan></text>
<path d="M405.2 100.75h17.8" stroke="#00f" stroke-width="2" fill="none"/>
<text x="428.7" y="104.35" font-family="'Liberation Sans', Arial, sans-serif" font-size="10.3" fill="#000" stroke="#000" stroke-width="0.2" font-style="italic">τ<tspan dy="1.8" font-size="5.5">L</tspan><tspan dy="-1.8">=100 fs, d=3 μm</tspan></text>
<path d="M405.2 113.00h17.8" stroke="#000" stroke-width="2" fill="none" stroke-dasharray="4.4 1.5"/>
<text x="428.7" y="116.60" font-family="'Liberation Sans', Arial, sans-serif" font-size="10.3" fill="#000" stroke="#000" stroke-width="0.2" font-style="italic">τ<tspan dy="1.8" font-size="5.5">L</tspan><tspan dy="-1.8">=100 fs, d=10 μm</tspan></text>
<path d="M405.2 125.25h17.8" stroke="#f00" stroke-width="2" fill="none" stroke-dasharray="4.4 1.5"/>
<text x="428.7" y="128.85" font-family="'Liberation Sans', Arial, sans-serif" font-size="10.3" fill="#000" stroke="#000" stroke-width="0.2" font-style="italic">τ<tspan dy="1.8" font-size="5.5">L</tspan><tspan dy="-1.8">=40 fs, d=10 μm</tspan></text>
<rect x="396" y="36.3" width="69.5" height="17.2" fill="#fff" stroke="#777" stroke-width="1"/>
<text x="430.7" y="48.9" font-family="'Liberation Sans', Arial, sans-serif" font-size="10.4" fill="#222" stroke="#222" stroke-width="0.2" font-style="italic" text-anchor="middle" textLength="58.6" lengthAdjust="spacingAndGlyphs">Upper Limits</text>
<text x="61.0" y="233.7" font-family="'Liberation Serif', 'Times New Roman', serif" font-size="12.9" fill="#111">(<tspan font-weight="bold">a</tspan>)</text>
<text x="79.2" y="233.7" font-family="'Liberation Serif', 'Times New Roman', serif" font-size="12.9" fill="#111" textLength="81.7" lengthAdjust="spacingAndGlyphs">Engine thrust (</text>
<text x="160.3" y="233.7" font-family="'Liberation Serif', 'Times New Roman', serif" font-size="14.6" font-style="italic" fill="#111">χ</text>
<text transform="translate(172.2 233.7) scale(1.3 1)" x="0" y="0" font-family="'Liberation Serif', 'Times New Roman', serif" font-size="12.9" fill="#111">=</text>
<text x="185.5" y="233.7" font-family="'Liberation Serif', 'Times New Roman', serif" font-size="12.9" fill="#111" textLength="35.7" lengthAdjust="spacingAndGlyphs">0.001).</text>
<text x="333.7" y="233.7" font-family="'Liberation Serif', 'Times New Roman', serif" font-size="12.9" fill="#111">(<tspan font-weight="bold">b</tspan>)</text>
<text x="353.9" y="233.7" font-family="'Liberation Serif', 'Times New Roman', serif" font-size="12.9" fill="#111" textLength="81.7" lengthAdjust="spacingAndGlyphs">Engine thrust (</text>
<text x="435.7" y="233.7" font-family="'Liberation Serif', 'Times New Roman', serif" font-size="14.6" font-style="italic" fill="#111">χ</text>
<text transform="translate(446.3 233.7) scale(1.3 1)" x="0" y="0" font-family="'Liberation Serif', 'Times New Roman', serif" font-size="12.9" fill="#111">=</text>
<text x="460.0" y="233.7" font-family="'Liberation Serif', 'Times New Roman', serif" font-size="12.9" fill="#111" textLength="27.7" lengthAdjust="spacingAndGlyphs">0.05).</text>
</svg></body></html>
